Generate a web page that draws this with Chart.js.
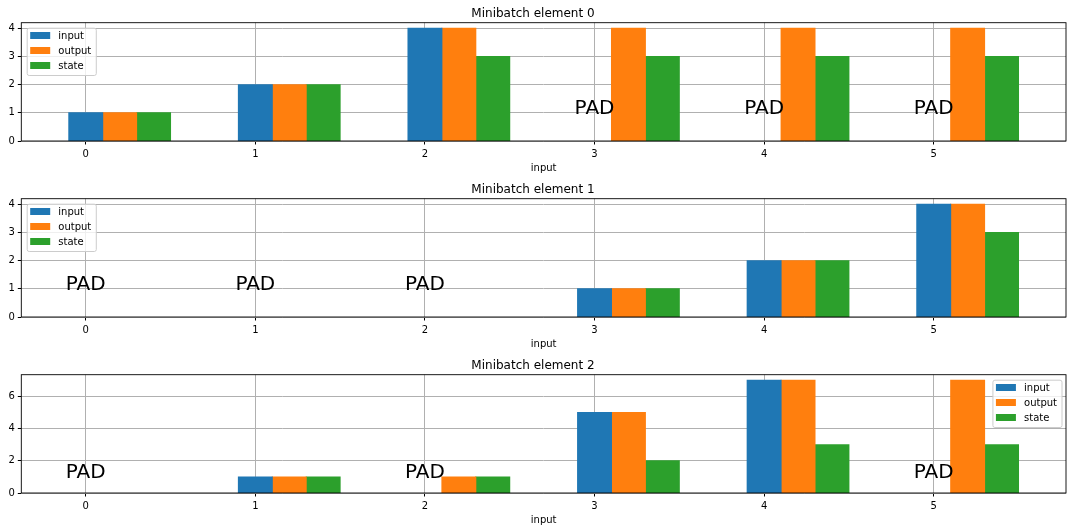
<!DOCTYPE html>
<html>
<head>
<meta charset="utf-8">
<script src="https://cdn.jsdelivr.net/npm/chart.js@4/dist/chart.umd.min.js"></script>
<style>
  body { margin: 0; background: #fff; }
  .panel { position: absolute; left: 0; width: 1072px; height: 176px; }
</style>
</head>
<body>
<div class="panel" style="top:0px"><canvas id="c0" width="1072" height="176"></canvas></div>
<div class="panel" style="top:176px"><canvas id="c1" width="1072" height="176"></canvas></div>
<div class="panel" style="top:352px"><canvas id="c2" width="1072" height="176"></canvas></div>
<script>
// steps 0..5, null input means the step is padding (drawn as "PAD")
const categories = [0, 1, 2, 3, 4, 5];
const seriesNames = ['input', 'output', 'state'];
const seriesColors = ['#1f77b4', '#ff7f0e', '#2ca02c'];

const input0 = [1, 2, 4, null, null, null];
const output0 = [1, 2, 4, 4, 4, 4];
const state0 = [1, 2, 3, 3, 3, 3];

const input1 = [null, null, null, 1, 2, 4];
const output1 = [0, 0, 0, 1, 2, 4];
const state1 = [0, 0, 0, 1, 2, 3];

const input2 = [null, 1, null, 5, 7, null];
const output2 = [0, 1, 1, 5, 7, 7];
const state2 = [0, 1, 1, 2, 3, 3];

const panels = [
  { id: 'c0', title: 'Minibatch element 0', series: [input0, output0, state0], yMax: 4.2, yStep: 1, legend: 'left' },
  { id: 'c1', title: 'Minibatch element 1', series: [input1, output1, state1], yMax: 4.2, yStep: 1, legend: 'left' },
  { id: 'c2', title: 'Minibatch element 2', series: [input2, output2, state2], yMax: 7.35, yStep: 2, legend: 'right' }
];

const FONT = "'DejaVu Sans', sans-serif";
const BAR_W = 0.2;

const framePlugin = {
  id: 'frame',
  afterDraw(chart) {
    const a = chart.chartArea;
    const ctx = chart.ctx;
    ctx.save();
    ctx.strokeStyle = '#000';
    ctx.lineWidth = 0.9;
    ctx.strokeRect(a.left, a.top, a.right - a.left, a.bottom - a.top);
    ctx.restore();
  }
};

const padPlugin = {
  id: 'padText',
  afterDatasetsDraw(chart) {
    const xs = chart.scales.x, ys = chart.scales.y;
    const inp = chart.data.datasets[0].data;
    const ctx = chart.ctx;
    ctx.save();
    ctx.font = '20px ' + FONT;
    ctx.fillStyle = '#000';
    ctx.textAlign = 'center';
    ctx.textBaseline = 'alphabetic';
    inp.forEach(p => {
      if (p.y === null) ctx.fillText('PAD', xs.getPixelForValue(p.x), ys.getPixelForValue(1) + 0.8);
    });
    ctx.restore();
  }
};

const legendPlugin = {
  id: 'boxLegend',
  afterDraw(chart, args, opts) {
    const a = chart.chartArea;
    const ctx = chart.ctx;
    ctx.save();
    ctx.font = '10px ' + FONT;
    const tw = Math.max(...chart.data.datasets.map(d => ctx.measureText(d.label).width));
    const w = 31.6 + tw + 4.5, h = 47.3;
    const x = opts.side === 'right' ? a.right - 4.5 - w : a.left + 5.4;
    const y = a.top + 5;
    ctx.fillStyle = 'rgba(255,255,255,0.8)';
    ctx.strokeStyle = '#cccccc';
    ctx.lineWidth = 1;
    ctx.beginPath();
    ctx.roundRect(x + 0.5, y + 0.5, w, h, 2);
    ctx.fill();
    ctx.stroke();
    chart.data.datasets.forEach((d, i) => {
      ctx.fillStyle = d.backgroundColor;
      ctx.fillRect(x + 3.5, y + 4.3 + i * 15, 20, 7);
      ctx.fillStyle = '#000';
      ctx.textBaseline = 'middle';
      ctx.fillText(d.label, x + 31.6, y + 9 + i * 15);
    });
    ctx.restore();
  }
};

panels.forEach(p => {
  const datasets = p.series.map((vals, s) => ({
    label: seriesNames[s],
    data: categories.map((c, i) => ({ x: c + s * BAR_W, y: vals[i] })),
    backgroundColor: seriesColors[s],
    borderWidth: 0,
    // close hairline gaps between touching bars, but keep zero bars invisible
    inflateAmount: ctx => (ctx.raw && ctx.raw.y ? 0.5 : 0),
    grouped: false,
    categoryPercentage: 1,
    barPercentage: 1
  }));

  new Chart(document.getElementById(p.id), {
    type: 'bar',
    data: { datasets },
    options: {
      responsive: false,
      animation: false,
      layout: { padding: { left: 0, right: 6, top: 0, bottom: 0 } },
      plugins: {
        legend: { display: false },
        tooltip: { enabled: false },
        title: {
          display: true,
          text: p.title,
          color: '#000',
          font: { family: FONT, size: 12, weight: 'normal' },
          padding: { top: 7, bottom: 1.3 }
        },
        boxLegend: { side: p.legend }
      },
      scales: {
        x: {
          type: 'linear',
          min: -0.38,
          max: 5.78,
          offset: false,
          z: 1,
          afterFit: s => { s.height = 35; },
          ticks: {
            stepSize: 1,
            includeBounds: false,
            color: '#000',
            padding: 4,
            maxRotation: 0,
            font: { family: FONT, size: 10 }
          },
          grid: { color: '#b0b0b0', offset: false, tickLength: 3.5, tickColor: '#000' },
          border: { display: false },
          title: {
            display: true,
            text: 'input',
            color: '#000',
            font: { family: FONT, size: 10 },
            padding: { top: 0, bottom: 2 }
          }
        },
        y: {
          min: 0,
          max: p.yMax,
          z: 1,
          afterFit: s => { s.width = 21.3; },
          ticks: {
            stepSize: p.yStep,
            includeBounds: false,
            color: '#000',
            padding: 3,
            font: { family: FONT, size: 10 }
          },
          grid: { color: '#b0b0b0', tickLength: 3.5, tickColor: '#000' },
          border: { display: false }
        }
      }
    },
    plugins: [framePlugin, padPlugin, legendPlugin]
  });
});
</script>
</body>
</html>
